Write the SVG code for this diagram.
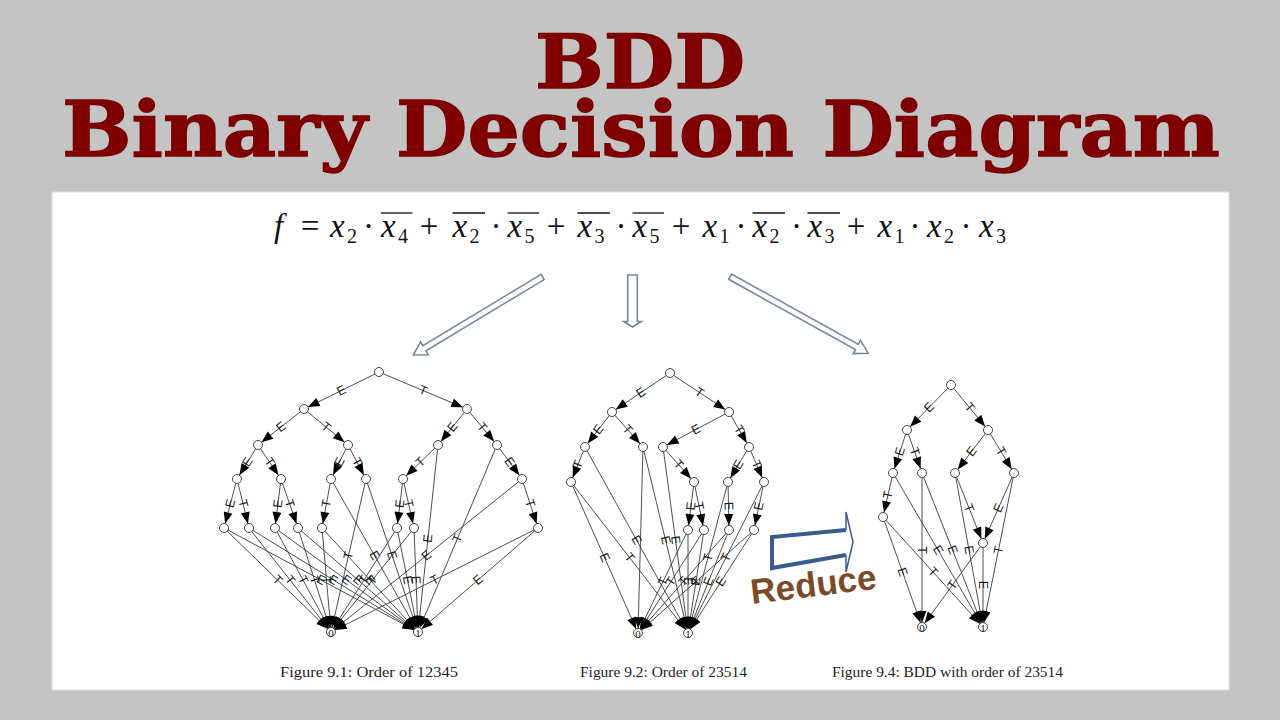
<svg xmlns="http://www.w3.org/2000/svg" width="1280" height="720" viewBox="0 0 1280 720">
<style>
.ttl{font-family:"DejaVu Serif","Liberation Serif",serif;font-weight:bold;fill:#800000;stroke:#7a0000;stroke-width:1.5;text-anchor:middle}
.mi{font-family:"Liberation Serif",serif;font-style:italic;font-size:33px;fill:#111}
.mr{font-family:"Liberation Serif",serif;font-size:33px;fill:#111;text-anchor:middle}
.sb{font-family:"Liberation Serif",serif;font-size:20px;fill:#111}
.ov{stroke:#111;stroke-width:1.3}
.e{stroke:#3a3a3a;stroke-width:0.9;fill:none;marker-end:url(#ah)}
.l{font-family:"Liberation Sans",Arial,sans-serif;font-size:12.5px;fill:#1a1a1a;text-anchor:middle;dominant-baseline:central}
.n{fill:#fff;stroke:#444;stroke-width:1}
.tl{font-family:"Liberation Serif",serif;font-size:11px;fill:#222;text-anchor:middle;dominant-baseline:central}
.big{fill:#fff;stroke:#7a8696;stroke-width:1.6;stroke-linejoin:miter}
.cap{font-family:"Liberation Serif",serif;font-size:14px;fill:#222}
</style>
<defs>
<marker id="ah" viewBox="0 -5 17 10" refX="16" refY="0" markerWidth="17" markerHeight="10" markerUnits="userSpaceOnUse" orient="auto" overflow="visible">
<path d="M0,-4.5 L11.5,0 L0,4.5 z" fill="#000"/>
</marker>
</defs>
<rect x="0" y="0" width="1280" height="720" fill="#c4c4c4"/>
<rect x="52" y="192" width="1177" height="498" fill="#fff" stroke="#e0e0e0" stroke-width="1"/>
<g id="title">
<text class="ttl" x="640" y="88" font-size="75" textLength="210" lengthAdjust="spacingAndGlyphs">BDD</text>
<text class="ttl" x="641" y="156" font-size="77" textLength="1158" lengthAdjust="spacingAndGlyphs">Binary Decision Diagram</text>
</g>
<g id="formula">
<text class="mi" x="274" y="237">f</text>
<text class="mr" x="310" y="237">=</text>
<text class="mi" x="330" y="237">x</text><text class="sb" x="347" y="243">2</text>
<text class="mr" x="368.5" y="237">·</text>
<text class="mi" x="381" y="237">x</text><text class="sb" x="398" y="243">4</text>
<text class="mr" x="429" y="237">+</text>
<text class="mi" x="452.5" y="237">x</text><text class="sb" x="469.5" y="243">2</text>
<text class="mr" x="496" y="237">·</text>
<text class="mi" x="507.5" y="237">x</text><text class="sb" x="524.5" y="243">5</text>
<text class="mr" x="556" y="237">+</text>
<text class="mi" x="577.5" y="237">x</text><text class="sb" x="594.5" y="243">3</text>
<text class="mr" x="621" y="237">·</text>
<text class="mi" x="632.5" y="237">x</text><text class="sb" x="649.5" y="243">5</text>
<text class="mr" x="681" y="237">+</text>
<text class="mi" x="702.5" y="237">x</text><text class="sb" x="719.5" y="243">1</text>
<text class="mr" x="741" y="237">·</text>
<text class="mi" x="752.5" y="237">x</text><text class="sb" x="769.5" y="243">2</text>
<text class="mr" x="796.5" y="237">·</text>
<text class="mi" x="807.5" y="237">x</text><text class="sb" x="824.5" y="243">3</text>
<text class="mr" x="856" y="237">+</text>
<text class="mi" x="877.5" y="237">x</text><text class="sb" x="894.5" y="243">1</text>
<text class="mr" x="915" y="237">·</text>
<text class="mi" x="927" y="237">x</text><text class="sb" x="944" y="243">2</text>
<text class="mr" x="966" y="237">·</text>
<text class="mi" x="979" y="237">x</text><text class="sb" x="996" y="243">3</text>
<line class="ov" x1="381" y1="213" x2="412.5" y2="213"/>
<line class="ov" x1="452.5" y1="213" x2="485" y2="213"/>
<line class="ov" x1="507.5" y1="213" x2="539" y2="213"/>
<line class="ov" x1="577.5" y1="213" x2="610" y2="213"/>
<line class="ov" x1="632.5" y1="213" x2="664" y2="213"/>
<line class="ov" x1="752.5" y1="213" x2="785" y2="213"/>
<line class="ov" x1="807.5" y1="213" x2="840" y2="213"/>
</g>
<g id="big-arrows">
<polygon class="big" transform="translate(413.3,355) rotate(148.9)" points="0,0 -13,-7.5 -13,-3 -151,-3 -151,3 -13,3 -13,7.5"/>
<polygon class="big" transform="translate(632.5,327) rotate(90)" points="0,0 -5.5,-8.7 -5.5,-4.8 -52,-4.8 -52,4.8 -5.5,4.8 -5.5,8.7"/>
<polygon class="big" transform="translate(868.3,353.3) rotate(29)" points="0,0 -13,-7.5 -13,-3 -158,-3 -158,3 -13,3 -13,7.5"/>
</g>
<g id="reduce-arrow">
<path d="M846,530 L772,537 L772,568 L846,555" fill="#fff" stroke="#3a5c8c" stroke-width="4"/>
<path d="M846,530 L846,512 L853,542 L846,572 L846,555" fill="none" stroke="#3a5c8c" stroke-width="1.5"/>
<text x="752" y="604" transform="rotate(-7 752 604)" font-family="Liberation Sans,Arial,sans-serif" font-weight="bold" font-size="35" fill="#7a4b28">Reduce</text>
</g>
<g id="connectors">
<!-- Figure 9.1 -->
<line class="e" x1="379" y1="372" x2="304" y2="409"/>
<line class="e" x1="379" y1="372" x2="467" y2="409"/>
<line class="e" x1="304" y1="409" x2="258" y2="445"/>
<line class="e" x1="304" y1="409" x2="348" y2="445"/>
<line class="e" x1="467" y1="409" x2="438" y2="445"/>
<line class="e" x1="467" y1="409" x2="497" y2="445"/>
<line class="e" x1="258" y1="445" x2="237" y2="479"/>
<line class="e" x1="258" y1="445" x2="281" y2="479"/>
<line class="e" x1="348" y1="445" x2="331" y2="479"/>
<line class="e" x1="348" y1="445" x2="366" y2="479"/>
<line class="e" x1="438" y1="445" x2="403" y2="479"/>
<line class="e" x1="438" y1="445" x2="418" y2="632"/>
<line class="e" x1="497" y1="445" x2="522" y2="479"/>
<line class="e" x1="497" y1="445" x2="418" y2="632"/>
<line class="e" x1="237" y1="479" x2="224" y2="528"/>
<line class="e" x1="237" y1="479" x2="249" y2="528"/>
<line class="e" x1="281" y1="479" x2="275" y2="528"/>
<line class="e" x1="281" y1="479" x2="298" y2="528"/>
<line class="e" x1="331" y1="479" x2="322" y2="528"/>
<line class="e" x1="331" y1="479" x2="418" y2="632"/>
<line class="e" x1="366" y1="479" x2="331" y2="632"/>
<line class="e" x1="366" y1="479" x2="418" y2="632"/>
<line class="e" x1="403" y1="479" x2="397" y2="528"/>
<line class="e" x1="403" y1="479" x2="414" y2="528"/>
<line class="e" x1="522" y1="479" x2="538" y2="528"/>
<line class="e" x1="522" y1="479" x2="331" y2="632"/>
<line class="e" x1="224" y1="528" x2="331" y2="632"/>
<line class="e" x1="224" y1="528" x2="418" y2="632"/>
<line class="e" x1="249" y1="528" x2="331" y2="632"/>
<line class="e" x1="249" y1="528" x2="418" y2="632"/>
<line class="e" x1="275" y1="528" x2="331" y2="632"/>
<line class="e" x1="275" y1="528" x2="418" y2="632"/>
<line class="e" x1="298" y1="528" x2="331" y2="632"/>
<line class="e" x1="298" y1="528" x2="418" y2="632"/>
<line class="e" x1="322" y1="528" x2="331" y2="632"/>
<line class="e" x1="322" y1="528" x2="418" y2="632"/>
<line class="e" x1="397" y1="528" x2="331" y2="632"/>
<line class="e" x1="397" y1="528" x2="418" y2="632"/>
<line class="e" x1="414" y1="528" x2="331" y2="632"/>
<line class="e" x1="414" y1="528" x2="418" y2="632"/>
<line class="e" x1="538" y1="528" x2="331" y2="632"/>
<line class="e" x1="538" y1="528" x2="418" y2="632"/>
<!-- Figure 9.2 -->
<line class="e" x1="670" y1="373" x2="612" y2="412"/>
<line class="e" x1="670" y1="373" x2="729" y2="412"/>
<line class="e" x1="612" y1="412" x2="585" y2="447"/>
<line class="e" x1="612" y1="412" x2="643" y2="447"/>
<line class="e" x1="729" y1="412" x2="663" y2="447"/>
<line class="e" x1="729" y1="412" x2="749" y2="447"/>
<line class="e" x1="585" y1="447" x2="571" y2="482"/>
<line class="e" x1="585" y1="447" x2="688" y2="633"/>
<line class="e" x1="643" y1="447" x2="638" y2="633"/>
<line class="e" x1="643" y1="447" x2="688" y2="633"/>
<line class="e" x1="663" y1="447" x2="694" y2="482"/>
<line class="e" x1="663" y1="447" x2="688" y2="633"/>
<line class="e" x1="749" y1="447" x2="728" y2="482"/>
<line class="e" x1="749" y1="447" x2="764" y2="482"/>
<line class="e" x1="571" y1="482" x2="638" y2="633"/>
<line class="e" x1="571" y1="482" x2="688" y2="633"/>
<line class="e" x1="694" y1="482" x2="688" y2="530"/>
<line class="e" x1="694" y1="482" x2="704" y2="530"/>
<line class="e" x1="728" y1="482" x2="729" y2="530"/>
<line class="e" x1="728" y1="482" x2="688" y2="633"/>
<line class="e" x1="764" y1="482" x2="754" y2="530"/>
<line class="e" x1="764" y1="482" x2="688" y2="633"/>
<line class="e" x1="688" y1="530" x2="638" y2="633"/>
<line class="e" x1="688" y1="530" x2="688" y2="633"/>
<line class="e" x1="704" y1="530" x2="638" y2="633"/>
<line class="e" x1="704" y1="530" x2="688" y2="633"/>
<line class="e" x1="729" y1="530" x2="638" y2="633"/>
<line class="e" x1="729" y1="530" x2="688" y2="633"/>
<line class="e" x1="754" y1="530" x2="638" y2="633"/>
<line class="e" x1="754" y1="530" x2="688" y2="633"/>
<!-- Figure 9.4 -->
<line class="e" x1="951" y1="385" x2="907" y2="430"/>
<line class="e" x1="951" y1="385" x2="988" y2="430"/>
<line class="e" x1="907" y1="430" x2="893" y2="473"/>
<line class="e" x1="907" y1="430" x2="922" y2="473"/>
<line class="e" x1="988" y1="430" x2="955" y2="473"/>
<line class="e" x1="988" y1="430" x2="1014" y2="473"/>
<line class="e" x1="893" y1="473" x2="883" y2="517"/>
<line class="e" x1="893" y1="473" x2="983" y2="627"/>
<line class="e" x1="922" y1="473" x2="922" y2="627"/>
<line class="e" x1="922" y1="473" x2="983" y2="627"/>
<line class="e" x1="955" y1="473" x2="983" y2="543"/>
<line class="e" x1="955" y1="473" x2="983" y2="627"/>
<line class="e" x1="1014" y1="473" x2="983" y2="543"/>
<line class="e" x1="1014" y1="473" x2="983" y2="627"/>
<line class="e" x1="883" y1="517" x2="922" y2="627"/>
<line class="e" x1="883" y1="517" x2="983" y2="627"/>
<line class="e" x1="983" y1="543" x2="922" y2="627"/>
<line class="e" x1="983" y1="543" x2="983" y2="627"/>
</g>
<g id="edge-labels">
<!-- 9.1 -->
<text class="l" transform="translate(341.5,390.5) rotate(-26.3)">E</text>
<text class="l" transform="translate(423,390.5) rotate(22.8)">T</text>
<text class="l" transform="translate(281,427) rotate(-38)">E</text>
<text class="l" transform="translate(326,427) rotate(39.3)">T</text>
<text class="l" transform="translate(452.5,427) rotate(-51.1)">E</text>
<text class="l" transform="translate(482,427) rotate(50.2)">T</text>
<text class="l" transform="translate(247.5,462) rotate(-58.3)">E</text>
<text class="l" transform="translate(269.5,462) rotate(55.9)">T</text>
<text class="l" transform="translate(339.5,462) rotate(-63.4)">E</text>
<text class="l" transform="translate(357,462) rotate(62.1)">T</text>
<text class="l" transform="translate(420.5,462) rotate(-44.2)">T</text>
<text class="l" transform="translate(428,538.5) rotate(-83.9)">E</text>
<text class="l" transform="translate(509.5,462) rotate(53.7)">E</text>
<text class="l" transform="translate(457.5,538.5) rotate(-67.1)">T</text>
<text class="l" transform="translate(230.5,503.5) rotate(-75.1)">E</text>
<text class="l" transform="translate(243,503.5) rotate(76.2)">T</text>
<text class="l" transform="translate(278,503.5) rotate(-83)">E</text>
<text class="l" transform="translate(289.5,503.5) rotate(70.9)">T</text>
<text class="l" transform="translate(326.5,503.5) rotate(-79.6)">T</text>
<text class="l" transform="translate(374.5,555.5) rotate(60.4)">E</text>
<text class="l" transform="translate(348.5,555.5) rotate(-77.1)">T</text>
<text class="l" transform="translate(392,555.5) rotate(71.2)">E</text>
<text class="l" transform="translate(400,503.5) rotate(-83)">E</text>
<text class="l" transform="translate(408.5,503.5) rotate(77.3)">T</text>
<text class="l" transform="translate(530,503.5) rotate(71.9)">T</text>
<text class="l" transform="translate(426.5,555.5) rotate(-38.7)">E</text>
<text class="l" transform="translate(277.5,580) rotate(44.2)">T</text>
<text class="l" transform="translate(321,580) rotate(28.2)">E</text>
<text class="l" transform="translate(290,580) rotate(51.7)">T</text>
<text class="l" transform="translate(333.5,580) rotate(31.6)">E</text>
<text class="l" transform="translate(303,580) rotate(61.7)">T</text>
<text class="l" transform="translate(346.5,580) rotate(36)">E</text>
<text class="l" transform="translate(314.5,580) rotate(72.4)">T</text>
<text class="l" transform="translate(358,580) rotate(40.9)">E</text>
<text class="l" transform="translate(326.5,580) rotate(85.1)">T</text>
<text class="l" transform="translate(370,580) rotate(47.3)">E</text>
<text class="l" transform="translate(364,580) rotate(-57.6)">T</text>
<text class="l" transform="translate(407.5,580) rotate(78.6)">E</text>
<text class="l" transform="translate(372.5,580) rotate(-51.4)">T</text>
<text class="l" transform="translate(416,580) rotate(87.8)">E</text>
<text class="l" transform="translate(434.5,580) rotate(-26.7)">T</text>
<text class="l" transform="translate(478,580) rotate(-40.9)">E</text>
<!-- 9.2 -->
<text class="l" transform="translate(641,392.5) rotate(-33.9)">E</text>
<text class="l" transform="translate(699.5,392.5) rotate(33.5)">T</text>
<text class="l" transform="translate(598.5,429.5) rotate(-52.3)">E</text>
<text class="l" transform="translate(627.5,429.5) rotate(48.5)">T</text>
<text class="l" transform="translate(696,429.5) rotate(-27.9)">E</text>
<text class="l" transform="translate(739,429.5) rotate(60.3)">T</text>
<text class="l" transform="translate(578,464.5) rotate(-68.2)">T</text>
<text class="l" transform="translate(636.5,540) rotate(61)">E</text>
<text class="l" transform="translate(665.5,540) rotate(76.4)">E</text>
<text class="l" transform="translate(678.5,464.5) rotate(48.5)">T</text>
<text class="l" transform="translate(675.5,540) rotate(82.3)">E</text>
<text class="l" transform="translate(738.5,464.5) rotate(-59)">E</text>
<text class="l" transform="translate(756.5,464.5) rotate(66.8)">T</text>
<text class="l" transform="translate(604.5,557.5) rotate(66.1)">E</text>
<text class="l" transform="translate(629.5,557.5) rotate(52.2)">T</text>
<text class="l" transform="translate(691,506) rotate(-82.9)">E</text>
<text class="l" transform="translate(699,506) rotate(78.2)">T</text>
<text class="l" transform="translate(728.5,506) rotate(88.8)">E</text>
<text class="l" transform="translate(708,557.5) rotate(-75.2)">T</text>
<text class="l" transform="translate(759,506) rotate(-78.2)">E</text>
<text class="l" transform="translate(726,557.5) rotate(-63.3)">T</text>
<text class="l" transform="translate(663,581.5) rotate(-64.1)">T</text>
<text class="l" transform="translate(688,581.5) rotate(90)">E</text>
<text class="l" transform="translate(671,581.5) rotate(-57.4)">T</text>
<text class="l" transform="translate(696,581.5) rotate(-81.2)">E</text>
<text class="l" transform="translate(683.5,581.5) rotate(-48.5)">T</text>
<text class="l" transform="translate(708.5,581.5) rotate(-68.3)">E</text>
<text class="l" transform="translate(696,581.5) rotate(-41.6)">T</text>
<text class="l" transform="translate(721,581.5) rotate(-57.4)">E</text>
<!-- 9.4 -->
<text class="l" transform="translate(929,407.5) rotate(-45.6)">E</text>
<text class="l" transform="translate(969.5,407.5) rotate(50.6)">T</text>
<text class="l" transform="translate(900,451.5) rotate(-72)">E</text>
<text class="l" transform="translate(914.5,451.5) rotate(70.8)">T</text>
<text class="l" transform="translate(971.5,451.5) rotate(-52.5)">E</text>
<text class="l" transform="translate(1001,451.5) rotate(58.8)">T</text>
<text class="l" transform="translate(888,495) rotate(-77.2)">T</text>
<text class="l" transform="translate(938,550) rotate(59.7)">E</text>
<text class="l" transform="translate(922,550) rotate(90)">T</text>
<text class="l" transform="translate(952.5,550) rotate(68.4)">E</text>
<text class="l" transform="translate(969,508) rotate(68.2)">T</text>
<text class="l" transform="translate(969,550) rotate(79.7)">E</text>
<text class="l" transform="translate(998.5,508) rotate(-66.1)">E</text>
<text class="l" transform="translate(998.5,550) rotate(-78.6)">T</text>
<text class="l" transform="translate(902.5,572) rotate(70.5)">E</text>
<text class="l" transform="translate(933,572) rotate(47.7)">T</text>
<text class="l" transform="translate(952.5,585) rotate(-54)">T</text>
<text class="l" transform="translate(983,585) rotate(90)">E</text>
</g>
<!-- Figure 9.1 nodes -->
<g id="f1-x1"><circle class="n" cx="379" cy="372" r="4.5"/></g>
<g id="f1-x2a"><circle class="n" cx="304" cy="409" r="4.5"/></g>
<g id="f1-x2b"><circle class="n" cx="467" cy="409" r="4.5"/></g>
<g id="f1-x3a"><circle class="n" cx="258" cy="445" r="4.5"/></g>
<g id="f1-x3b"><circle class="n" cx="348" cy="445" r="4.5"/></g>
<g id="f1-x3c"><circle class="n" cx="438" cy="445" r="4.5"/></g>
<g id="f1-x3d"><circle class="n" cx="497" cy="445" r="4.5"/></g>
<g id="f1-x4a"><circle class="n" cx="237" cy="479" r="4.5"/></g>
<g id="f1-x4b"><circle class="n" cx="281" cy="479" r="4.5"/></g>
<g id="f1-x4c"><circle class="n" cx="331" cy="479" r="4.5"/></g>
<g id="f1-x4d"><circle class="n" cx="366" cy="479" r="4.5"/></g>
<g id="f1-x4e"><circle class="n" cx="403" cy="479" r="4.5"/></g>
<g id="f1-x4f"><circle class="n" cx="522" cy="479" r="4.5"/></g>
<g id="f1-x5a"><circle class="n" cx="224" cy="528" r="4.5"/></g>
<g id="f1-x5b"><circle class="n" cx="249" cy="528" r="4.5"/></g>
<g id="f1-x5c"><circle class="n" cx="275" cy="528" r="4.5"/></g>
<g id="f1-x5d"><circle class="n" cx="298" cy="528" r="4.5"/></g>
<g id="f1-x5e"><circle class="n" cx="322" cy="528" r="4.5"/></g>
<g id="f1-x5f"><circle class="n" cx="397" cy="528" r="4.5"/></g>
<g id="f1-x5g"><circle class="n" cx="414" cy="528" r="4.5"/></g>
<g id="f1-x5h"><circle class="n" cx="538" cy="528" r="4.5"/></g>
<g id="f1-zero"><circle class="n" cx="331" cy="632" r="4.5"/><text class="tl" x="331" y="632.5">0</text></g>
<g id="f1-one"><circle class="n" cx="418" cy="632" r="4.5"/><text class="tl" x="418" y="632.5">1</text></g>
<!-- Figure 9.2 nodes -->
<g id="f2-x2"><circle class="n" cx="670" cy="373" r="4.5"/></g>
<g id="f2-x3a"><circle class="n" cx="612" cy="412" r="4.5"/></g>
<g id="f2-x3b"><circle class="n" cx="729" cy="412" r="4.5"/></g>
<g id="f2-x5a"><circle class="n" cx="585" cy="447" r="4.5"/></g>
<g id="f2-x5b"><circle class="n" cx="643" cy="447" r="4.5"/></g>
<g id="f2-x5c"><circle class="n" cx="663" cy="447" r="4.5"/></g>
<g id="f2-x5d"><circle class="n" cx="749" cy="447" r="4.5"/></g>
<g id="f2-x1a"><circle class="n" cx="571" cy="482" r="4.5"/></g>
<g id="f2-x1b"><circle class="n" cx="694" cy="482" r="4.5"/></g>
<g id="f2-x1c"><circle class="n" cx="728" cy="482" r="4.5"/></g>
<g id="f2-x1d"><circle class="n" cx="764" cy="482" r="4.5"/></g>
<g id="f2-x4a"><circle class="n" cx="688" cy="530" r="4.5"/></g>
<g id="f2-x4b"><circle class="n" cx="704" cy="530" r="4.5"/></g>
<g id="f2-x4c"><circle class="n" cx="729" cy="530" r="4.5"/></g>
<g id="f2-x4d"><circle class="n" cx="754" cy="530" r="4.5"/></g>
<g id="f2-zero"><circle class="n" cx="638" cy="633" r="4.5"/><text class="tl" x="638" y="633.5">0</text></g>
<g id="f2-one"><circle class="n" cx="688" cy="633" r="4.5"/><text class="tl" x="688" y="633.5">1</text></g>
<!-- Figure 9.4 nodes -->
<g id="f4-x2"><circle class="n" cx="951" cy="385" r="4.5"/></g>
<g id="f4-x3a"><circle class="n" cx="907" cy="430" r="4.5"/></g>
<g id="f4-x3b"><circle class="n" cx="988" cy="430" r="4.5"/></g>
<g id="f4-x5a"><circle class="n" cx="893" cy="473" r="4.5"/></g>
<g id="f4-x5b"><circle class="n" cx="922" cy="473" r="4.5"/></g>
<g id="f4-x5c"><circle class="n" cx="955" cy="473" r="4.5"/></g>
<g id="f4-x1a"><circle class="n" cx="1014" cy="473" r="4.5"/></g>
<g id="f4-x1b"><circle class="n" cx="883" cy="517" r="4.5"/></g>
<g id="f4-x4"><circle class="n" cx="983" cy="543" r="4.5"/></g>
<g id="f4-zero"><circle class="n" cx="922" cy="627" r="4.5"/><text class="tl" x="922" y="627.5">0</text></g>
<g id="f4-one"><circle class="n" cx="983" cy="627" r="4.5"/><text class="tl" x="983" y="627.5">1</text></g>
<g id="captions">
<text class="cap" x="280" y="677" textLength="178" lengthAdjust="spacingAndGlyphs">Figure 9.1: Order of 12345</text>
<text class="cap" x="580" y="677" textLength="167" lengthAdjust="spacingAndGlyphs">Figure 9.2: Order of 23514</text>
<text class="cap" x="832" y="677" textLength="231" lengthAdjust="spacingAndGlyphs">Figure 9.4: BDD with order of 23514</text>
</g>
</svg>
